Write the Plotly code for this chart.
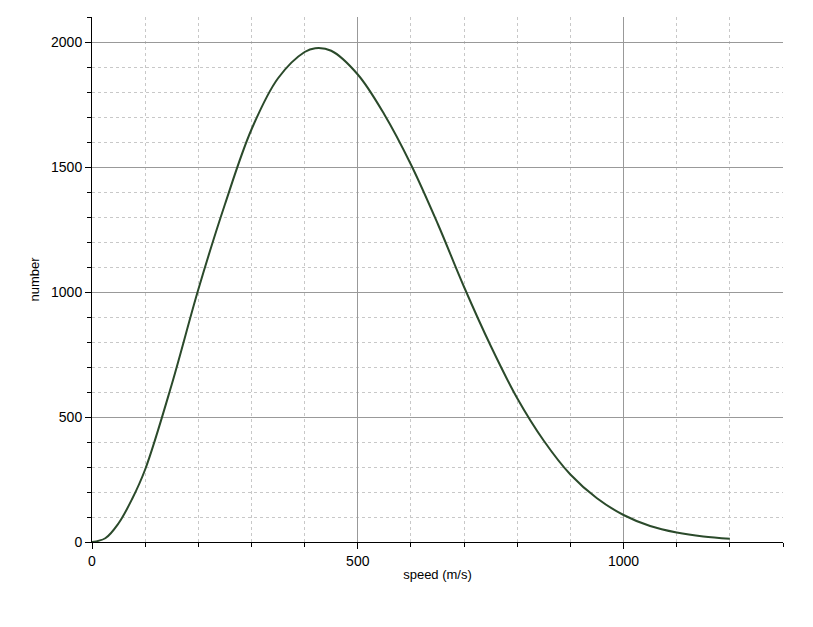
import plotly.graph_objects as go

speed = [0, 25, 50, 75, 100, 150, 200, 250, 300, 350, 400, 420, 450, 500, 550, 600,
         650, 700, 750, 800, 850, 900, 950, 1000, 1050, 1100, 1150, 1200]
number = [0, 15, 75, 170, 290, 630, 1010, 1350, 1650, 1855, 1960, 1975, 1965, 1870,
          1710, 1510, 1275, 1020, 785, 575, 405, 270, 175, 108, 64, 38, 22, 13]

fig = go.Figure(go.Scatter(x=speed, y=number, mode="lines",
                           line=dict(color="#2b4a2b", width=2, shape="spline", smoothing=1.0)))

axis_common = dict(
    showline=True, linecolor="black", linewidth=1,
    ticks="outside", ticklen=6, tickcolor="black",
    showgrid=True, gridcolor="#999999", gridwidth=1,
    zeroline=False, tickfont=dict(size=14, color="black"),
)
minor = dict(ticks="outside", ticklen=4, tickcolor="black", showgrid=True,
             gridcolor="#c8c8c8", griddash="3px,3px", gridwidth=1)

fig.update_xaxes(range=[0, 1300], dtick=500, minor=dict(dtick=100, **minor),
                 title=dict(text="speed (m/s)", font=dict(size=13, color="black"), standoff=2),
                 **axis_common)
fig.update_yaxes(range=[0, 2100], dtick=500, minor=dict(dtick=100, **minor),
                 title=dict(text="number", font=dict(size=13, color="black"), standoff=8),
                 **axis_common)

fig.update_layout(width=813, height=627, margin=dict(l=84, r=38, t=9, b=93),
                  plot_bgcolor="white", paper_bgcolor="white", showlegend=False,
                  font=dict(family="Liberation Sans, Arial, sans-serif"))

fig.write_html("out.html")
